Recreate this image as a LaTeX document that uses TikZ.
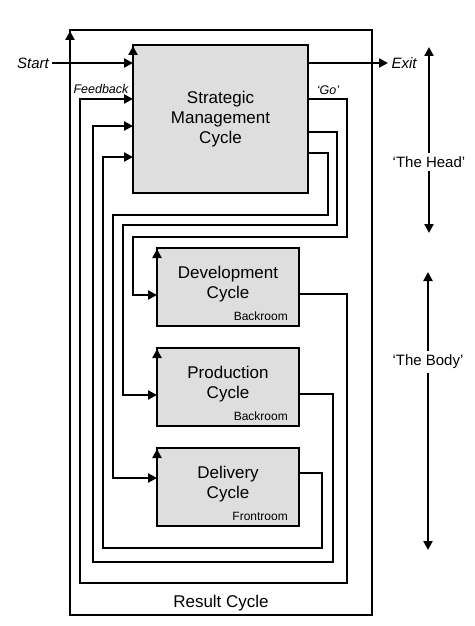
\documentclass[tikz,border=0pt]{standalone}
\usepackage{fontspec}
\setmainfont{Liberation Sans}
\usetikzlibrary{shapes,arrows.meta,positioning}
\tikzset{
	cyclebox/.style = {shape=rectangle, draw, line width=2.6pt, outer sep=0pt,
		fill=black!13, align=center, minimum width=142pt,
		minimum height=78pt, font=\fontsize{17}{20}\selectfont},
	room/.style     = {anchor=south east, inner sep=0pt,
		font=\fontsize{12}{14}\selectfont},
	outer/.style    = {shape=rectangle, draw, line width=2.6pt, outer sep=0pt,
		minimum width=302pt, minimum height=585pt},
	tag/.style      = {font=\fontsize{12.5}{14}\selectfont\itshape},
	part/.style     = {font=\fontsize{15}{18}\selectfont},
	flow/.style     = {draw, line width=2.6pt, -{Triangle[length=9pt,width=9pt]}},
}

\begin{document}
\begin{tikzpicture}
[
x = 1pt,
y = -1pt,
every node/.style = {font=\fontsize{17}{20}\selectfont}
]
\useasboundingbox (0,0) rectangle (474,626);

% result cycle round everything
\node [outer] (result) at (221,322.5) {};
\node (resultlbl) at (221,603) {Result Cycle};
\draw [flow] (result.west) -- ([yshift=-1pt]result.north west);

% the head
\node [cyclebox, minimum width=175pt, minimum height=148pt] (strat) at (220.5,119) {
	Strategic\\Management\\Cycle
};
\draw [flow] (strat.west) -- ([yshift=-1pt]strat.north west);

% the body
\node [cyclebox] (dev) at (228,287) {Development\\Cycle\\[-11pt]\phantom{x}};
\node [cyclebox, below=22pt of dev] (prod) {Production\\Cycle\\[-11pt]\phantom{x}};
\node [cyclebox, below=22pt of prod] (deliv) {Delivery\\Cycle\\[-11pt]\phantom{x}};
\node [room] (devroom) at ([xshift=-11pt,yshift=5pt]dev.south east) {Backroom};
\node [room] (prodroom) at ([xshift=-11pt,yshift=5pt]prod.south east) {Backroom};
\node [room] (delivroom) at ([xshift=-11pt,yshift=5pt]deliv.south east) {Frontroom};
\foreach \b in {dev,prod,deliv}
	\draw [flow] (\b.west) -- ([yshift=-1pt]\b.north west);

% start and exit
\node [part, font=\fontsize{15}{18}\selectfont\itshape] (start) at (33,63) {Start};
\node [part, font=\fontsize{15}{18}\selectfont\itshape, anchor=west] (exit) at (388,63) {Exit};
\draw [flow] (start) -- (strat.west |- start);
\draw [flow] (strat.east |- exit) -- (exit);
\node [tag] (fb) at (101,89) {Feedback};
\node [tag] (go) at (328,90) {`Go'};

% go lines into the body
\path [flow] (strat.east |- 0,99) -| (347,237) -| (133,295) -- (dev.west |- 0,295);
\path [flow] (strat.east |- 0,132) -| (337,225) -| (123,395) -- (prod.west |- 0,395);
\path [flow] (strat.east |- 0,153) -| (328,215) -| (113,478) -- (deliv.west |- 0,478);

% feedback back to the head
\path [flow] (dev.east |- 0,294) -| (347,583) -| (80,99) -- (strat.west |- 0,99);
\path [flow] (prod.east |- 0,394) -| (333,562) -| (93,126) -- (strat.west |- 0,126);
\path [flow] (deliv.east |- 0,473) -| (322,548) -| (103,157) -- (strat.west |- 0,157);

% head and body spans
\node [part] (head) at (429,162) {`The Head'};
\coordinate (headtop) at (429,47);
\coordinate (headbot) at (429,233);
\draw [flow] (head) -- (headtop);
\draw [flow] (head) -- (headbot);

\node [part] (body) at (428,362) {`The Body'};
\coordinate (bodytop) at (428,272);
\coordinate (bodybot) at (428,550);
\draw [flow] (body) -- (bodytop);
\draw [flow] (body) -- (bodybot);
\end{tikzpicture}
\end{document}
